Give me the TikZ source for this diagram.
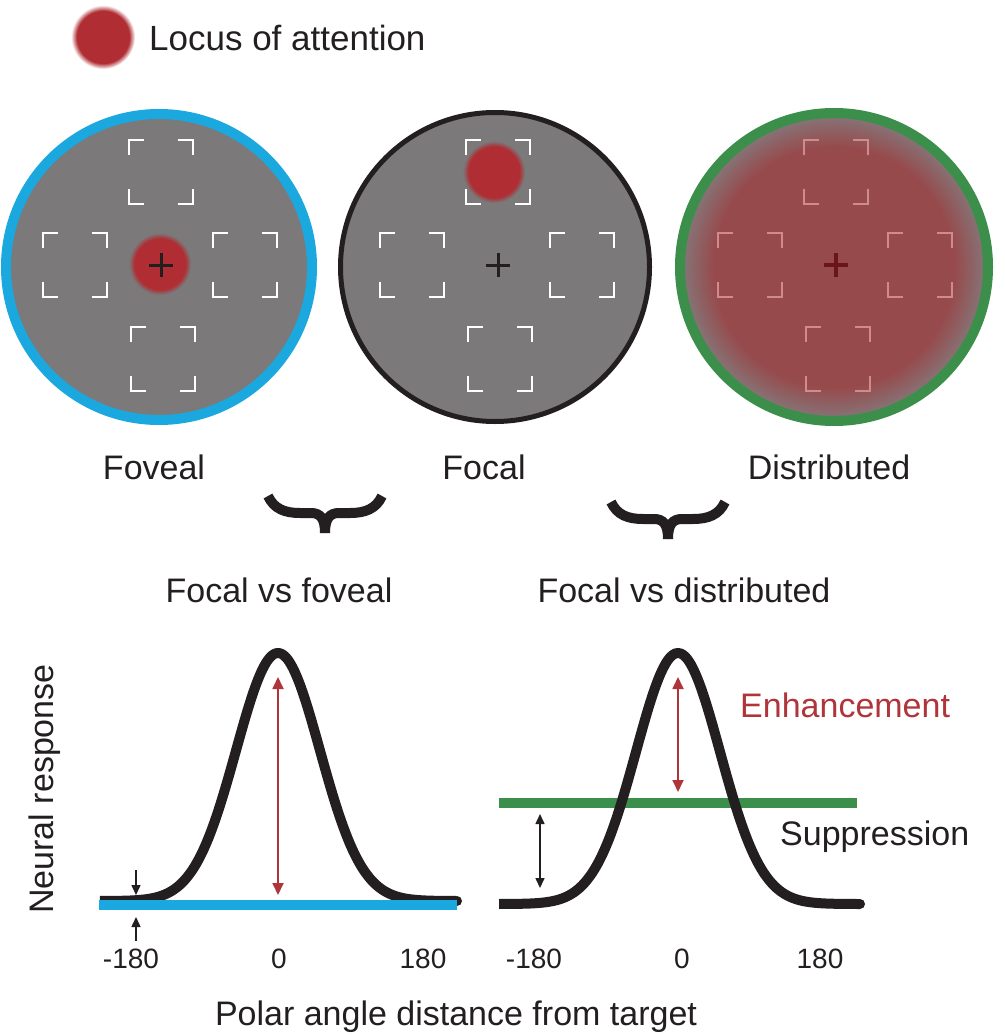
\documentclass[tikz,border=0pt]{standalone}
\usepackage{fontspec}
\setmainfont{Liberation Sans}
\usetikzlibrary{arrows.meta}
\definecolor{ink}{HTML}{231F20}
\definecolor{bggrey}{HTML}{7B797A}
\definecolor{fovblue}{HTML}{1AA8DF}
\definecolor{distgreen}{HTML}{3B8F4A}
\definecolor{blobred}{HTML}{AF2D33}
\definecolor{distred}{HTML}{974A4C}
\definecolor{distedge}{HTML}{84787B}
\definecolor{pinkbox}{HTML}{D08C8D}
\definecolor{darkcross}{HTML}{6A1519}
\definecolor{enhred}{HTML}{B0353A}
\pgfdeclareradialshading{blobgrey}{\pgfpointorigin}{color(0bp)=(blobred); color(20.5bp)=(blobred); color(25bp)=(bggrey); color(50bp)=(bggrey)}
\pgfdeclareradialshading{blobwhite}{\pgfpointorigin}{color(0bp)=(blobred); color(20.5bp)=(blobred); color(25bp)=(white); color(50bp)=(white)}
\pgfdeclareradialshading{distshade}{\pgfpointorigin}{color(0bp)=(distred); color(19.5bp)=(distred); color(25bp)=(distedge); color(50bp)=(distedge)}
\tikzset{
  lbl/.style={inner sep=0pt, text=ink, font=\fontsize{34}{40}\selectfont},
  numlbl/.style={inner sep=0pt, text=ink, font=\fontsize{28}{32}\selectfont},
  curve/.style={draw=ink, line width=10pt, line cap=butt, line join=round},
  redarrow/.style={draw=enhred, line width=1.8pt, {Triangle[length=12pt,width=11pt]}-{Triangle[length=12pt,width=11pt]}},
  blackarrow/.style={draw=ink, line width=1.5pt, -{Triangle[length=10pt,width=9pt]}},
  blackdarrow/.style={draw=ink, line width=1.5pt, {Triangle[length=10pt,width=9pt]}-{Triangle[length=10pt,width=9pt]}},
  bracebar/.style={draw=ink, line width=10pt, line cap=butt},
  pics/tbox/.style={code={
    \draw[line width=2.5pt, line cap=butt, #1]
      (-32,-17)--(-32,-32)--(-17,-32)
      (17,-32)--(32,-32)--(32,-17)
      (32,17)--(32,32)--(17,32)
      (-17,32)--(-32,32)--(-32,17);}},
  pics/fixcross/.style={code={
    \draw[line width=3pt, #1] (-12,0)--(12,0) (0,-12)--(0,12);}},
  pics/curlybrace/.style={code={
    \draw[bracebar] (-57,0) .. controls (-51,13) and (-40,17) .. (-25,17) -- (-14,17)
      .. controls (-5,17) and (0,22) .. (0,37);
    \draw[bracebar] (57,0) .. controls (51,13) and (40,17) .. (25,17) -- (14,17)
      .. controls (5,17) and (0,22) .. (0,37);}},
}
\begin{document}
\begin{tikzpicture}[x=1pt,y=-1pt]
\useasboundingbox (0,0) rectangle (1004,1035);
\fill[white] (0,0) rectangle (1004,1035);

% legend
\coordinate (legblob) at (103,37);
\shade[shading=blobwhite] (legblob) circle (32);
\node[lbl, anchor=base west, font=\fontsize{35}{40}\selectfont] (legend) at (149,51) {Locus of attention};

% ---- foveal display
\coordinate (c1) at (159,267);
\coordinate (x1) at (161,265);
\fill[bggrey] (c1) circle (153);
\shade[shading=blobgrey] (160,264) circle (31);
\pic at (x1) {fixcross=ink};
\pic at ([shift={(0,-93)}]x1) {tbox=white};
\pic at ([shift={(-86,0)}]x1) {tbox=white};
\pic at ([shift={(84,0)}]x1) {tbox=white};
\pic at ([shift={(2,94)}]x1) {tbox=white};
\draw[fovblue, line width=10pt] (c1) circle (153);

% ---- focal display
\coordinate (c2) at (495,267);
\coordinate (x2) at (498,265);
\fill[bggrey] (c2) circle (154.5);
\pic at (x2) {fixcross=ink};
\pic at ([shift={(0,-93)}]x2) {tbox=white};
\pic at ([shift={(-86,0)}]x2) {tbox=white};
\pic at ([shift={(84,0)}]x2) {tbox=white};
\pic at ([shift={(2,94)}]x2) {tbox=white};
\shade[shading=blobgrey] (494,172) circle (31);
\draw[ink, line width=5pt] (c2) circle (154.5);

% ---- distributed display
\coordinate (c3) at (834,267);
\coordinate (x3) at (836,265);
\shade[shading=distshade] (c3) circle (154);
\pic at ([shift={(0,-93)}]x3) {tbox=pinkbox};
\pic at ([shift={(-86,0)}]x3) {tbox=pinkbox};
\pic at ([shift={(84,0)}]x3) {tbox=pinkbox};
\pic at ([shift={(2,94)}]x3) {tbox=pinkbox};
\pic at (x3) {fixcross={darkcross,line width=3.5pt}};
\draw[distgreen, line width=10pt] (c3) circle (154);

% ---- labels
\node[lbl, anchor=base] (lfov) at (154,479) {Foveal};
\node[lbl, anchor=base] (lfoc) at (484,479) {Focal};
\node[lbl, anchor=base] (ldis) at (829,479) {Distributed};

% braces
\pic at (325,496) {curlybrace};
\pic at (668,502) {curlybrace};

\node[lbl, anchor=base] (cmp1) at (279,602) {Focal vs foveal};
\node[lbl, anchor=base] (cmp2) at (684,602) {Focal vs distributed};

% ---- left plot
\draw[curve] plot[domain=-4.24:4.24, samples=140, smooth] ({278+42*\x}, {901-248*exp(-0.5*\x*\x)});
\fill[ink] (457,901) circle (5);
\draw[fovblue, line width=10pt] (99,905) -- (457,905);
\coordinate (e1t) at (278,677);
\coordinate (e1b) at (278,895);
\draw[redarrow] (e1t) -- (e1b);
\coordinate (s1a) at (136,870);
\coordinate (s1b) at (136,895);
\coordinate (s1c) at (136,941);
\coordinate (s1d) at (136,917);
\draw[blackarrow] (s1a) -- (s1b);
\draw[blackarrow] (s1c) -- (s1d);

% ---- right plot
\draw[distgreen, line width=10pt] (499,803) -- (857,803);
\draw[curve] plot[domain=-4.26:4.33, samples=140, smooth] ({678+42*\x}, {904-251*exp(-0.5*\x*\x)});
\fill[ink] (860,904) circle (5);
\coordinate (e2t) at (678,677);
\coordinate (e2b) at (678,792);
\draw[redarrow] (e2t) -- (e2b);
\coordinate (s2t) at (540,814);
\coordinate (s2b) at (540,888);
\draw[blackdarrow] (s2t) -- (s2b);

\node[lbl, anchor=base west, text=enhred] (enh) at (740,717) {Enhancement};
\node[lbl, anchor=base west] (sup) at (780,845) {Suppression};

% axes labels
\node[lbl, anchor=base, rotate=90] (ylab) at (53,789) {Neural response};
\node[numlbl, anchor=base] (t1) at (131,968) {-180};
\node[numlbl, anchor=base] (t2) at (279,968) {0};
\node[numlbl, anchor=base] (t3) at (423,968) {180};
\node[numlbl, anchor=base] (t4) at (534,968) {-180};
\node[numlbl, anchor=base] (t5) at (682,968) {0};
\node[numlbl, anchor=base] (t6) at (820,968) {180};
\node[lbl, anchor=base] (xlab) at (456,1025) {Polar angle distance from target};
\end{tikzpicture}
\end{document}
